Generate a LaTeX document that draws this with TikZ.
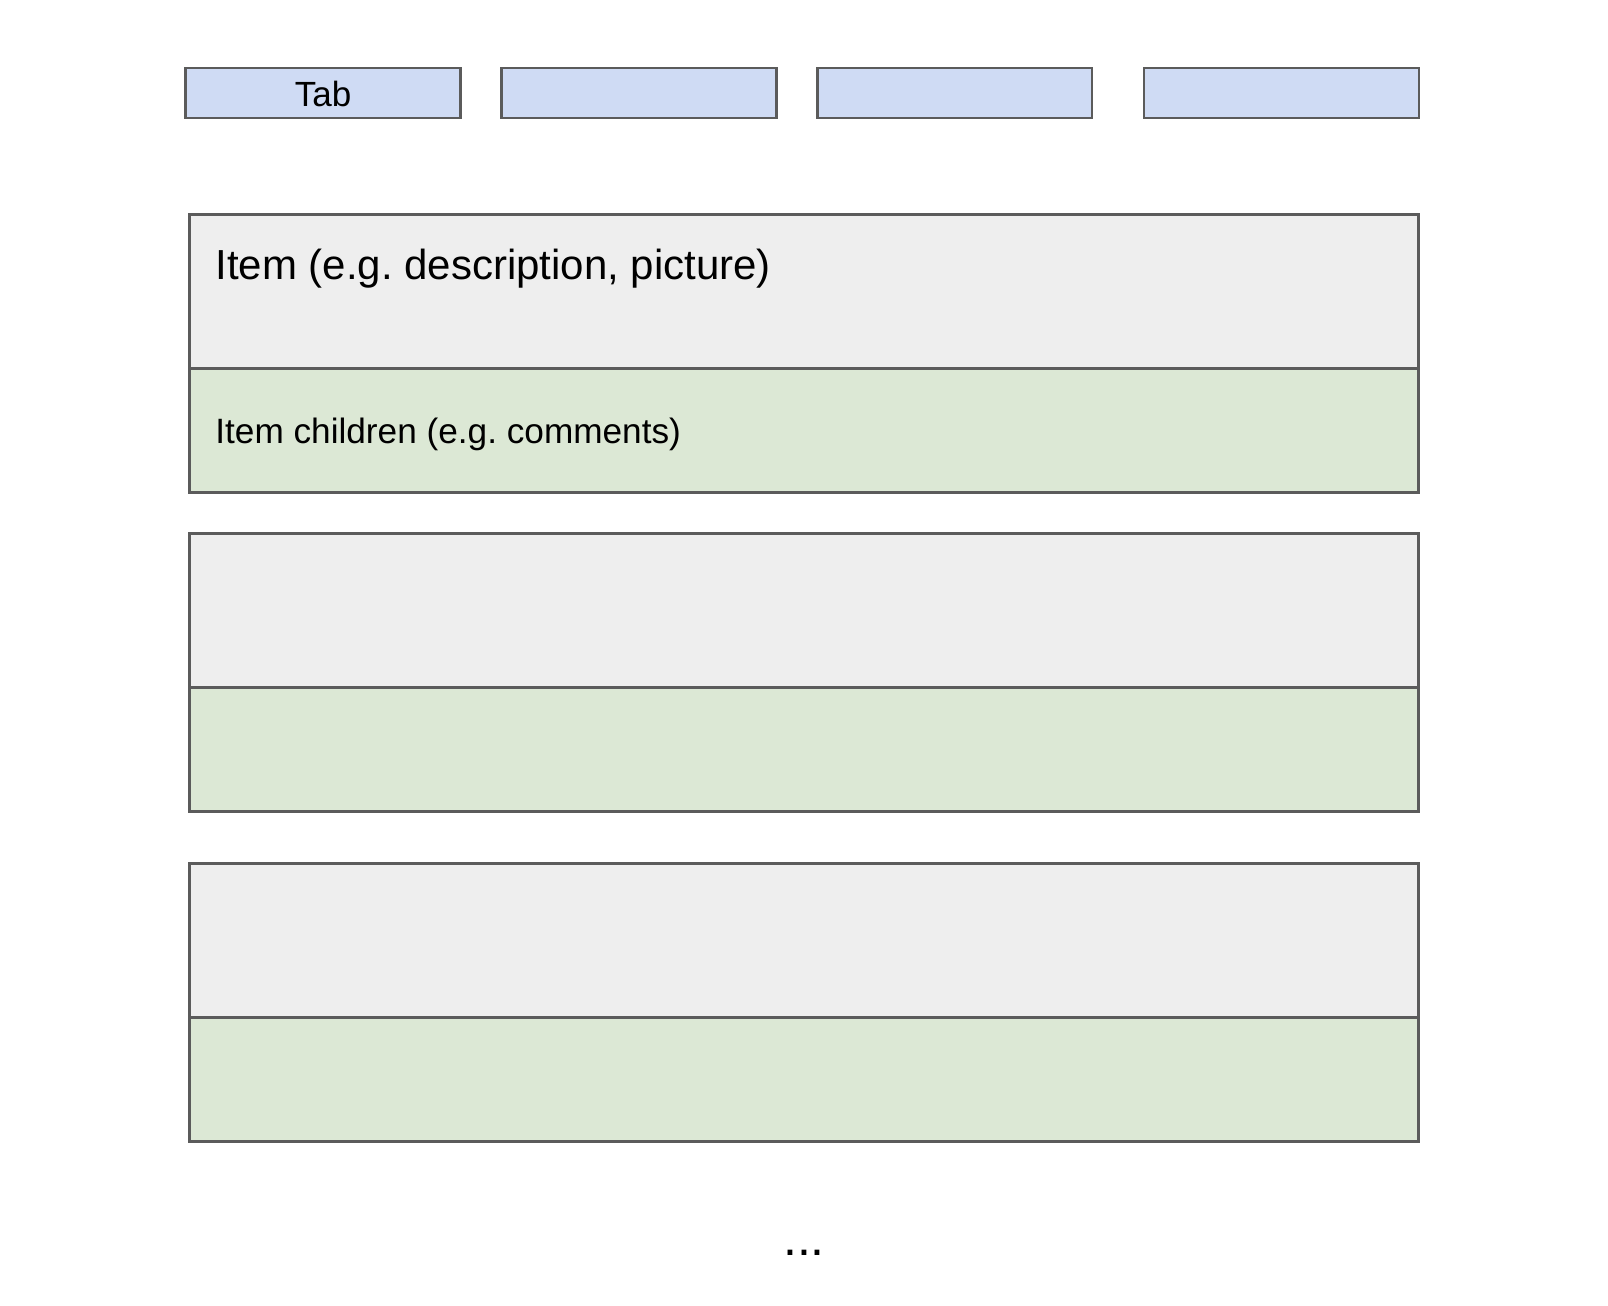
\documentclass[tikz,border=0pt]{standalone}
\usepackage{fontspec}
\setmainfont{Liberation Sans}
\frenchspacing
\definecolor{tabblue}{HTML}{CFDBF4}
\definecolor{itemgray}{HTML}{EEEEEE}
\definecolor{childgreen}{HTML}{DCE8D5}
\definecolor{edgegray}{HTML}{5B5B5B}
\tikzset{
  tabbox/.style={draw=edgegray, fill=tabblue, line width=1.25pt, inner sep=0pt,
    minimum width=137.4pt, minimum height=25pt},
  itemtext/.style={anchor=base west, inner sep=0pt, font=\fontsize{21}{24}\selectfont},
  childtext/.style={anchor=base west, inner sep=0pt, font=\fontsize{17.6}{21}\selectfont}
}
\begin{document}
\begin{tikzpicture}[x=0.5pt, y=-0.5pt]
\useasboundingbox (0,0) rectangle (1608,1306);

% Tabs
\node[tabbox] (tab1) at (323,92.8) {};
\node[tabbox] (tab2) at (639,92.8) {};
\node[tabbox] (tab3) at (954.7,92.8) {};
\node[tabbox] (tab4) at (1281.4,92.8) {};
\node[anchor=base, inner sep=0pt, font=\fontsize{17.5}{20}\selectfont] (tablabel) at (323,106.7) {Tab};

% Item blocks (item + children)
\foreach \top in {214.3,533.4,863.5} {
    \filldraw[fill=itemgray, draw=edgegray, line width=1.25pt] (189.7,\top) rectangle (1418.5,\top+154);
    \filldraw[fill=childgreen, draw=edgegray, line width=1.25pt] (189.7,\top+154) rectangle (1418.5,\top+278);
}

% Labels
\node[itemtext] (item) at (215,279.3) {Item (e.g. description, picture)};
\node[childtext] (children) at (215,443.3) {Item children (e.g. comments)};

% More items
\node[anchor=base, inner sep=0pt, font=\fontsize{25}{28}\selectfont] (more) at (804,1255.5) {...};

\end{tikzpicture}
\end{document}
